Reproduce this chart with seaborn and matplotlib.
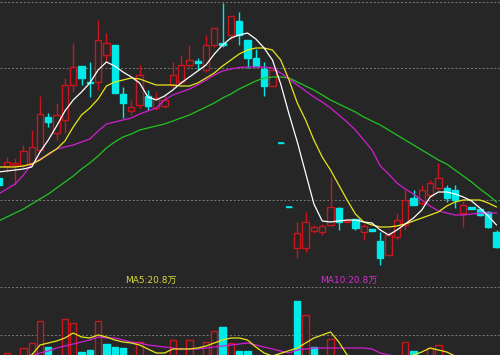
import numpy as np
import pandas as pd
import matplotlib
matplotlib.use("Agg")
import matplotlib.pyplot as plt
import seaborn as sns

# ---------------- data ----------------
opens = [12.2, 13.4, 13.5, 13.5, 13.7, 15.0, 18.3, 16.7, 18.0, 21.5,
         23.4, 21.8, 21.8, 24.5, 25.5, 20.6, 18.9, 19.5, 20.4, 19.2,
         19.4, 21.5, 21.8, 23.5, 23.85, 23.0, 25.5, 25.7, 26.5, 27.9,
         26.0, 24.2, 23.1, 21.4, 15.72, 9.32, 5.2, 5.2, 6.9, 6.8,
         7.5, 9.2, 7.85, 8.1, 6.8, 7.1, 5.9, 4.5, 6.3, 7.5,
         10.2, 9.7, 10.5, 11.2, 11.2, 11.0, 8.7, 9.3, 9.1, 8.8, 6.8]
highs = [12.4, 14.3, 14.2, 15.5, 17.0, 20.4, 18.7, 19.7, 22.2, 25.7,
         23.4, 23.8, 28.0, 26.7, 25.5, 21.3, 20.0, 23.5, 21.0, 20.8,
         20.5, 23.8, 24.5, 25.5, 24.2, 26.5, 27.2, 29.7, 28.4, 28.8,
         26.0, 25.1, 23.8, 23.0, 15.72, 9.32, 7.8, 8.8, 7.5, 7.6,
         12.3, 9.3, 8.0, 8.1, 7.6, 7.1, 6.8, 6.8, 8.7, 11.0,
         11.0, 11.5, 12.0, 13.7, 11.5, 11.5, 10.0, 9.3, 9.2, 8.9, 7.0]
lows = [11.2, 12.8, 11.5, 13.3, 13.5, 14.8, 17.3, 16.0, 16.7, 20.8,
        21.5, 20.3, 21.0, 23.8, 20.7, 18.2, 18.5, 19.2, 19.0, 19.0,
        19.2, 21.2, 21.6, 23.2, 23.0, 22.8, 25.3, 25.3, 26.0, 25.5,
        23.2, 23.4, 20.4, 21.4, 15.68, 9.28, 4.2, 4.8, 6.7, 6.5,
        7.4, 7.0, 7.8, 7.0, 6.0, 6.9, 3.5, 4.4, 6.0, 7.0,
        9.5, 9.5, 10.3, 11.0, 9.8, 9.2, 7.3, 9.1, 8.4, 7.2, 5.2]
closes = [11.5, 13.8, 13.7, 14.9, 15.3, 18.6, 17.8, 18.5, 21.5, 23.3,
          22.2, 21.7, 26.0, 25.7, 20.7, 19.7, 19.3, 22.5, 19.4, 20.2,
          20.0, 22.5, 23.5, 24.0, 23.75, 25.5, 27.2, 25.5, 28.4, 26.5,
          24.2, 23.4, 21.4, 23.0, 15.68, 9.28, 6.7, 7.8, 7.3, 7.4,
          9.3, 7.8, 7.95, 7.2, 7.4, 6.9, 4.2, 6.5, 8.0, 10.0,
          9.5, 11.0, 11.7, 12.2, 10.2, 10.0, 9.5, 9.1, 8.5, 7.3, 5.3]

ma5 = [12.8, 12.9, 13.0, 13.1, 13.3, 14.8, 16.0, 17.4, 18.9, 20.0,
       20.8, 21.7, 23.0, 23.8, 23.4, 22.8, 22.3, 21.7, 20.3, 20.0,
       20.4, 21.0, 21.7, 22.3, 22.9, 23.5, 24.6, 25.5, 26.2, 26.5,
       26.7, 26.1, 25.2, 24.0, 21.6, 18.6, 15.8, 12.7, 9.6, 7.9,
       7.8, 7.9, 8.0, 8.0, 7.8, 7.7, 7.0, 6.5, 7.0, 7.6,
       8.2, 9.0, 10.3, 10.8, 10.8, 10.6, 10.3, 9.9, 9.2, 8.4, 7.5]
ma10 = [13.3, 13.3, 13.3, 13.4, 13.6, 14.0, 14.6, 15.1, 15.9, 17.3,
        18.5, 19.2, 20.1, 21.4, 21.8, 22.0, 22.2, 22.1, 21.8, 21.5,
        21.5, 21.5, 21.4, 21.4, 21.7, 22.2, 22.7, 23.4, 24.0, 24.6,
        25.0, 25.2, 25.2, 25.0, 24.0, 22.0, 19.7, 18.0, 16.0, 14.3,
        13.0, 11.5, 10.0, 8.6, 7.8, 7.5, 7.3, 7.3, 7.4, 7.6,
        7.9, 8.2, 8.5, 8.8, 9.4, 9.8, 10.0, 10.0, 10.0, 9.7, 9.3]
ma20 = [10.6, 11.1, 11.6, 12.5, 13.6, 14.1, 14.5, 15.1, 15.3, 15.5,
        15.8, 16.1, 16.9, 17.6, 17.8, 18.0, 18.2, 18.6, 18.9, 19.2,
        20.0, 20.5, 20.8, 21.1, 21.5, 22.0, 22.5, 22.9, 23.1, 23.25,
        23.3, 23.3, 23.3, 23.2, 22.7, 22.1, 21.5, 20.9, 20.3, 19.8,
        19.2, 18.5, 17.8, 17.0, 16.0, 15.0, 13.4, 12.6, 11.7, 11.1,
        10.6, 10.0, 9.4, 8.9, 8.7, 8.5, 8.5, 8.6, 8.7, 8.7, 8.7]
ma60 = [7.9, 8.3, 8.7, 9.1, 9.6, 10.1, 10.6, 11.2, 11.8, 12.4,
        13.1, 13.7, 14.4, 15.2, 15.8, 16.3, 16.6, 17.0, 17.2, 17.4,
        17.6, 17.9, 18.2, 18.5, 18.9, 19.3, 19.7, 20.2, 20.6, 21.1,
        21.5, 21.9, 22.2, 22.3, 22.3, 22.2, 21.8, 21.4, 21.0, 20.5,
        20.0, 19.6, 19.2, 18.8, 18.3, 17.9, 17.5, 17.0, 16.5, 16.0,
        15.5, 15.0, 14.5, 14.0, 13.6, 13.0, 12.4, 11.8, 11.1, 10.5, 9.8]

volume = [18, 27, 20, 32, 37, 59, 33, 22, 61, 57,
          28, 30, 59, 36, 33, 32, 20, 38, 22, 18,
          20, 40, 22, 40, 18, 38, 49, 53, 37, 29,
          29, 24, 22, 15, 5, 8, 79, 65, 33, 22,
          41, 20, 15, 18, 15, 12, 20, 18, 22, 38,
          29, 22, 32, 35, 20, 18, 22, 12, 18, 20, 22]
vol_ma5 = [20, 21, 22, 23, 25, 35, 37, 39, 42, 47,
           43, 42, 45, 43, 40, 38, 37, 35, 31, 27,
           27, 31, 31, 31, 32, 34, 37, 40, 42, 42,
           40, 33, 27, 24, 22, 24, 32, 37, 42, 45,
           48, 38, 25, 22, 20, 18, 18, 19, 20, 23,
           25, 28, 32, 30, 28, 24, 22, 21, 21, 20.8, 20.8]
vol_ma10 = [20, 21, 22, 23, 24, 27, 29, 32, 34, 36,
            38, 40, 43, 42, 42, 40, 38, 37, 35, 34,
            33, 32, 31, 31, 31, 32, 33, 34, 35, 36,
            37, 35, 33, 31, 29, 27, 30, 31, 32, 32,
            32, 32, 32, 32, 32, 31, 27, 25, 24, 23,
            23, 23, 24, 24, 24, 23, 22, 21, 21, 21, 20.8]
vol_labels = ["MA5:20.8万", "MA10:20.8万"]

# ---------------- style ----------------
BG = '#262626'
RED = '#c8161e'
CYAN = '#00eaea'
GRID = '#7a7a7a'

sns.set_theme(style="dark")
plt.rcParams['font.family'] = ['DejaVu Sans', 'Noto Sans CJK SC']

n = len(closes)
idx = np.arange(n)
df = pd.DataFrame({'idx': idx, 'open': opens, 'high': highs, 'low': lows,
                   'close': closes, 'MA5': ma5, 'MA10': ma10, 'MA20': ma20,
                   'MA60': ma60, 'vol': volume, 'VMA5': vol_ma5,
                   'VMA10': vol_ma10})

fig = plt.figure(figsize=(5, 3.55), dpi=100, facecolor=BG)
ax = fig.add_axes([0, 83 / 355, 1, 272 / 355])
axv = fig.add_axes([0, 0, 1, 83 / 355])
for a in (ax, axv):
    a.set_facecolor(BG)
    a.set_axis_off()
    a.set_xlim(0.18, 60.42)

ax.set_ylim(2.8, 30)
axv.set_ylim(25, 108)

# grid lines
for p in [29.8, 23.2, 10.0]:
    ax.axhline(p, color=GRID, lw=0.7, ls=(0, (2, 2)), zorder=0)
for v in [93, 45]:
    axv.axhline(v, color=GRID, lw=0.7, ls=(0, (2, 2)), zorder=0)

W = 0.76
o = df['open'].values
c = df['close'].values
h = df['high'].values
l = df['low'].values
up = c > o
top = np.maximum(o, c)
bot = np.minimum(o, c)

# wicks
for i in range(n):
    col = RED if up[i] else CYAN
    if up[i]:
        ax.vlines(i, top[i], h[i], color=col, lw=1.0, zorder=2)
        ax.vlines(i, l[i], bot[i], color=col, lw=1.0, zorder=2)
    else:
        ax.vlines(i, l[i], h[i], color=col, lw=1.0, zorder=2)

# bodies
ax.bar(idx[up], (top - bot)[up], bottom=bot[up], width=W,
       facecolor=BG, edgecolor=RED, linewidth=1.0, zorder=3)
ax.bar(idx[~up], (top - bot)[~up], bottom=bot[~up], width=W,
       facecolor=CYAN, edgecolor=CYAN, linewidth=1.0, zorder=3)
flat = (top - bot) < 0.15
for i in idx[flat]:
    ax.hlines((o[i] + c[i]) / 2, i - W / 2, i + W / 2,
              color=RED if up[i] else CYAN, lw=1.2, zorder=3)

# moving averages
for name, col in [('MA60', '#22c422'), ('MA20', '#d21ed2'),
                  ('MA10', '#e6e619'), ('MA5', '#ffffff')]:
    sns.lineplot(data=df, x='idx', y=name, ax=ax, color=col, lw=0.9,
                 legend=False, zorder=5)
ax.set_axis_off()

# volume bars: colour by close vs previous close
prev = np.r_[c[0] - 1, c[:-1]]
vup = c >= prev
vol = df['vol'].values
axv.bar(idx[vup], vol[vup], width=W, bottom=0, facecolor=BG,
        edgecolor=RED, linewidth=1.0, zorder=2)
axv.bar(idx[~vup], vol[~vup], width=W, bottom=0, facecolor=CYAN,
        edgecolor=CYAN, linewidth=1.0, zorder=2)
sns.lineplot(data=df, x='idx', y='VMA10', ax=axv, color='#d21ed2',
             lw=0.9, legend=False, zorder=4)
sns.lineplot(data=df, x='idx', y='VMA5', ax=axv, color='#e6e619',
             lw=0.9, legend=False, zorder=5)
axv.set_axis_off()
axv.set_ylim(25, 108)

axv.text(125 / 500, (355 - 280) / 83, vol_labels[0], color='#d8d840',
         fontsize=6.5, transform=axv.transAxes, va='center', ha='left')
axv.text(320 / 500, (355 - 280) / 83, vol_labels[1], color='#d030d0',
         fontsize=6.5, transform=axv.transAxes, va='center', ha='left')

fig.savefig('out.png', dpi=100, facecolor=BG)
